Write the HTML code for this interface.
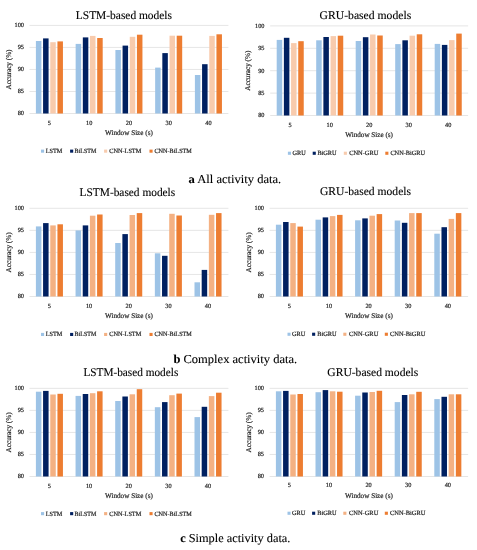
<!DOCTYPE html>
<html lang="en"><head><meta charset="utf-8"><title>Accuracy of LSTM- and GRU-based models</title>
<style>html,body{margin:0;padding:0;background:#fff}svg{display:block}text{font-family:"Liberation Serif",serif;text-rendering:geometricPrecision}.t{font-size:11.7px;fill:#000;stroke:#000;stroke-width:.12px}.c{font-size:12px;fill:#000;stroke:#000;stroke-width:.1px}.s{font-size:6.3px;fill:#262626;stroke:#262626;stroke-width:.2px}.a{font-size:7.3px;fill:#262626;stroke:#262626;stroke-width:.2px}.l{font-size:6.4px;fill:#262626;stroke:#262626;stroke-width:.2px}</style></head><body>
<svg width="477" height="550" viewBox="0 0 477 550">
<rect width="477" height="550" fill="#fff"/>
<g>
<text class="t" x="75.8" y="19.1" textLength="96.2" lengthAdjust="spacingAndGlyphs">LSTM-based models</text>
<line x1="29.5" x2="228.4" y1="25.40" y2="25.40" stroke="#DCDCDC" stroke-width="0.75"/>
<text class="s" text-anchor="end" x="24.0" y="27.25">100</text>
<line x1="29.5" x2="228.4" y1="47.42" y2="47.42" stroke="#DCDCDC" stroke-width="0.75"/>
<text class="s" text-anchor="end" x="24.0" y="49.27">95</text>
<line x1="29.5" x2="228.4" y1="69.45" y2="69.45" stroke="#DCDCDC" stroke-width="0.75"/>
<text class="s" text-anchor="end" x="24.0" y="71.30">90</text>
<line x1="29.5" x2="228.4" y1="91.47" y2="91.47" stroke="#DCDCDC" stroke-width="0.75"/>
<text class="s" text-anchor="end" x="24.0" y="93.32">85</text>
<line x1="29.5" x2="228.4" y1="113.50" y2="113.50" stroke="#DCDCDC" stroke-width="0.75"/>
<text class="s" text-anchor="end" x="24.0" y="115.35">80</text>
<rect x="35.90" y="41.00" width="5.50" height="72.50" fill="#9DC3E6"/>
<rect x="43.08" y="38.40" width="5.50" height="75.10" fill="#002060"/>
<rect x="50.26" y="42.20" width="5.50" height="71.30" fill="#F8CBAD"/>
<rect x="57.44" y="41.40" width="5.50" height="72.10" fill="#ED7D31"/>
<text class="s" text-anchor="middle" x="49.4" y="124.9">5</text>
<rect x="75.65" y="43.90" width="5.50" height="69.60" fill="#9DC3E6"/>
<rect x="82.83" y="37.40" width="5.50" height="76.10" fill="#002060"/>
<rect x="90.01" y="35.90" width="5.50" height="77.60" fill="#F8CBAD"/>
<rect x="97.19" y="38.00" width="5.50" height="75.50" fill="#ED7D31"/>
<text class="s" text-anchor="middle" x="89.2" y="124.9">10</text>
<rect x="115.40" y="50.00" width="5.50" height="63.50" fill="#9DC3E6"/>
<rect x="122.58" y="45.60" width="5.50" height="67.90" fill="#002060"/>
<rect x="129.76" y="36.80" width="5.50" height="76.70" fill="#F8CBAD"/>
<rect x="136.94" y="34.70" width="5.50" height="78.80" fill="#ED7D31"/>
<text class="s" text-anchor="middle" x="128.9" y="124.9">20</text>
<rect x="155.15" y="67.60" width="5.50" height="45.90" fill="#9DC3E6"/>
<rect x="162.33" y="53.10" width="5.50" height="60.40" fill="#002060"/>
<rect x="169.51" y="35.70" width="5.50" height="77.80" fill="#F8CBAD"/>
<rect x="176.69" y="35.70" width="5.50" height="77.80" fill="#ED7D31"/>
<text class="s" text-anchor="middle" x="168.7" y="124.9">30</text>
<rect x="194.90" y="75.00" width="5.50" height="38.50" fill="#9DC3E6"/>
<rect x="202.08" y="64.20" width="5.50" height="49.30" fill="#002060"/>
<rect x="209.26" y="35.90" width="5.50" height="77.60" fill="#F8CBAD"/>
<rect x="216.44" y="34.30" width="5.50" height="79.20" fill="#ED7D31"/>
<text class="s" text-anchor="middle" x="208.4" y="124.9">40</text>
<text class="a" text-anchor="middle" transform="translate(128.9 135.1) scale(1 1)" textLength="47.8" lengthAdjust="spacingAndGlyphs">Window Size (s)</text>
<text class="a" text-anchor="middle" transform="translate(11.1 69.5) rotate(-90) scale(1 1)" textLength="40" lengthAdjust="spacingAndGlyphs">Accuracy (%)</text>
<rect x="41.0" y="149.6" width="3.1" height="3.1" fill="#9DC3E6"/>
<text class="l" transform="translate(45.8 153.1) scale(1 1)" textLength="16.6" lengthAdjust="spacingAndGlyphs">LSTM</text>
<rect x="70.1" y="149.6" width="3.1" height="3.1" fill="#002060"/>
<text class="l" transform="translate(74.6 153.1) scale(1 1)" textLength="21.7" lengthAdjust="spacingAndGlyphs">BiLSTM</text>
<rect x="104.1" y="149.6" width="3.1" height="3.1" fill="#F8CBAD"/>
<text class="l" transform="translate(109.2 153.1) scale(1 1)" textLength="32.1" lengthAdjust="spacingAndGlyphs">CNN-LSTM</text>
<rect x="149.5" y="149.6" width="3.1" height="3.1" fill="#ED7D31"/>
<text class="l" transform="translate(154.5 153.1) scale(1 1)" textLength="37.3" lengthAdjust="spacingAndGlyphs">CNN-BiLSTM</text>
</g>
<g>
<text class="t" x="319.6" y="19.1" textLength="91.6" lengthAdjust="spacingAndGlyphs">GRU-based models</text>
<line x1="270.2" x2="468.1" y1="25.90" y2="25.90" stroke="#DCDCDC" stroke-width="0.75"/>
<text class="s" text-anchor="end" x="264.5" y="27.75">100</text>
<line x1="270.2" x2="468.1" y1="48.30" y2="48.30" stroke="#DCDCDC" stroke-width="0.75"/>
<text class="s" text-anchor="end" x="264.5" y="50.15">95</text>
<line x1="270.2" x2="468.1" y1="70.70" y2="70.70" stroke="#DCDCDC" stroke-width="0.75"/>
<text class="s" text-anchor="end" x="264.5" y="72.55">90</text>
<line x1="270.2" x2="468.1" y1="93.10" y2="93.10" stroke="#DCDCDC" stroke-width="0.75"/>
<text class="s" text-anchor="end" x="264.5" y="94.95">85</text>
<line x1="270.2" x2="468.1" y1="115.50" y2="115.50" stroke="#DCDCDC" stroke-width="0.75"/>
<text class="s" text-anchor="end" x="264.5" y="117.35">80</text>
<rect x="276.70" y="39.90" width="5.50" height="75.60" fill="#9DC3E6"/>
<rect x="283.88" y="37.80" width="5.50" height="77.70" fill="#002060"/>
<rect x="291.06" y="43.10" width="5.50" height="72.40" fill="#F8CBAD"/>
<rect x="298.24" y="41.20" width="5.50" height="74.30" fill="#ED7D31"/>
<text class="s" text-anchor="middle" x="290.2" y="126.9">5</text>
<rect x="316.20" y="40.30" width="5.50" height="75.20" fill="#9DC3E6"/>
<rect x="323.38" y="37.00" width="5.50" height="78.50" fill="#002060"/>
<rect x="330.56" y="36.10" width="5.50" height="79.40" fill="#F8CBAD"/>
<rect x="337.74" y="35.70" width="5.50" height="79.80" fill="#ED7D31"/>
<text class="s" text-anchor="middle" x="329.7" y="126.9">10</text>
<rect x="355.70" y="41.00" width="5.50" height="74.50" fill="#9DC3E6"/>
<rect x="362.88" y="37.20" width="5.50" height="78.30" fill="#002060"/>
<rect x="370.06" y="34.50" width="5.50" height="81.00" fill="#F8CBAD"/>
<rect x="377.24" y="35.50" width="5.50" height="80.00" fill="#ED7D31"/>
<text class="s" text-anchor="middle" x="369.2" y="126.9">20</text>
<rect x="395.20" y="44.10" width="5.50" height="71.40" fill="#9DC3E6"/>
<rect x="402.38" y="40.30" width="5.50" height="75.20" fill="#002060"/>
<rect x="409.56" y="35.70" width="5.50" height="79.80" fill="#F8CBAD"/>
<rect x="416.74" y="34.30" width="5.50" height="81.20" fill="#ED7D31"/>
<text class="s" text-anchor="middle" x="408.7" y="126.9">30</text>
<rect x="434.70" y="43.90" width="5.50" height="71.60" fill="#9DC3E6"/>
<rect x="441.88" y="44.90" width="5.50" height="70.60" fill="#002060"/>
<rect x="449.06" y="40.10" width="5.50" height="75.40" fill="#F8CBAD"/>
<rect x="456.24" y="33.60" width="5.50" height="81.90" fill="#ED7D31"/>
<text class="s" text-anchor="middle" x="448.2" y="126.9">40</text>
<text class="a" text-anchor="middle" transform="translate(369.1 136.9) scale(1 1)" textLength="47.8" lengthAdjust="spacingAndGlyphs">Window Size (s)</text>
<text class="a" text-anchor="middle" transform="translate(250.3 70.7) rotate(-90) scale(1 1)" textLength="40" lengthAdjust="spacingAndGlyphs">Accuracy (%)</text>
<rect x="287.9" y="151.7" width="3.1" height="3.1" fill="#9DC3E6"/>
<text class="l" transform="translate(292.6 155.2) scale(1 1)" textLength="13.2" lengthAdjust="spacingAndGlyphs">GRU</text>
<rect x="312.7" y="151.7" width="3.1" height="3.1" fill="#002060"/>
<text class="l" transform="translate(317.4 155.2) scale(1 1)" textLength="19.2" lengthAdjust="spacingAndGlyphs">BiGRU</text>
<rect x="343.8" y="151.7" width="3.1" height="3.1" fill="#F8CBAD"/>
<text class="l" transform="translate(349.2 155.2) scale(1 1)" textLength="29.2" lengthAdjust="spacingAndGlyphs">CNN-GRU</text>
<rect x="385.3" y="151.7" width="3.1" height="3.1" fill="#ED7D31"/>
<text class="l" transform="translate(390.4 155.2) scale(1 1)" textLength="34.6" lengthAdjust="spacingAndGlyphs">CNN-BiGRU</text>
</g>
<g>
<text class="t" x="79.6" y="195.7" textLength="95.6" lengthAdjust="spacingAndGlyphs">LSTM-based models</text>
<line x1="29.5" x2="228.4" y1="208.30" y2="208.30" stroke="#DCDCDC" stroke-width="0.75"/>
<text class="s" text-anchor="end" x="24.0" y="210.15">100</text>
<line x1="29.5" x2="228.4" y1="230.35" y2="230.35" stroke="#DCDCDC" stroke-width="0.75"/>
<text class="s" text-anchor="end" x="24.0" y="232.20">95</text>
<line x1="29.5" x2="228.4" y1="252.40" y2="252.40" stroke="#DCDCDC" stroke-width="0.75"/>
<text class="s" text-anchor="end" x="24.0" y="254.25">90</text>
<line x1="29.5" x2="228.4" y1="274.45" y2="274.45" stroke="#DCDCDC" stroke-width="0.75"/>
<text class="s" text-anchor="end" x="24.0" y="276.30">85</text>
<line x1="29.5" x2="228.4" y1="296.50" y2="296.50" stroke="#DCDCDC" stroke-width="0.75"/>
<text class="s" text-anchor="end" x="24.0" y="298.35">80</text>
<rect x="35.90" y="226.40" width="5.50" height="70.10" fill="#9DC3E6"/>
<rect x="43.08" y="223.10" width="5.50" height="73.40" fill="#002060"/>
<rect x="50.26" y="225.40" width="5.50" height="71.10" fill="#F4B183"/>
<rect x="57.44" y="224.30" width="5.50" height="72.20" fill="#ED7D31"/>
<text class="s" text-anchor="middle" x="49.4" y="307.9">5</text>
<rect x="75.55" y="230.40" width="5.50" height="66.10" fill="#9DC3E6"/>
<rect x="82.73" y="225.40" width="5.50" height="71.10" fill="#002060"/>
<rect x="89.91" y="215.70" width="5.50" height="80.80" fill="#F4B183"/>
<rect x="97.09" y="214.50" width="5.50" height="82.00" fill="#ED7D31"/>
<text class="s" text-anchor="middle" x="89.1" y="307.9">10</text>
<rect x="115.20" y="243.00" width="5.50" height="53.50" fill="#9DC3E6"/>
<rect x="122.38" y="234.10" width="5.50" height="62.40" fill="#002060"/>
<rect x="129.56" y="215.00" width="5.50" height="81.50" fill="#F4B183"/>
<rect x="136.74" y="213.10" width="5.50" height="83.40" fill="#ED7D31"/>
<text class="s" text-anchor="middle" x="128.7" y="307.9">20</text>
<rect x="154.85" y="253.30" width="5.50" height="43.20" fill="#9DC3E6"/>
<rect x="162.03" y="255.80" width="5.50" height="40.70" fill="#002060"/>
<rect x="169.21" y="213.80" width="5.50" height="82.70" fill="#F4B183"/>
<rect x="176.39" y="215.50" width="5.50" height="81.00" fill="#ED7D31"/>
<text class="s" text-anchor="middle" x="168.4" y="307.9">30</text>
<rect x="194.50" y="282.30" width="5.50" height="14.20" fill="#9DC3E6"/>
<rect x="201.68" y="269.90" width="5.50" height="26.60" fill="#002060"/>
<rect x="208.86" y="214.80" width="5.50" height="81.70" fill="#F4B183"/>
<rect x="216.04" y="213.10" width="5.50" height="83.40" fill="#ED7D31"/>
<text class="s" text-anchor="middle" x="208.0" y="307.9">40</text>
<text class="a" text-anchor="middle" transform="translate(128.9 318.1) scale(1 1)" textLength="47.8" lengthAdjust="spacingAndGlyphs">Window Size (s)</text>
<text class="a" text-anchor="middle" transform="translate(11.1 252.4) rotate(-90) scale(1 1)" textLength="40" lengthAdjust="spacingAndGlyphs">Accuracy (%)</text>
<rect x="41.0" y="332.9" width="3.1" height="3.1" fill="#9DC3E6"/>
<text class="l" transform="translate(45.8 336.4) scale(1 1)" textLength="16.6" lengthAdjust="spacingAndGlyphs">LSTM</text>
<rect x="70.1" y="332.9" width="3.1" height="3.1" fill="#002060"/>
<text class="l" transform="translate(74.6 336.4) scale(1 1)" textLength="21.7" lengthAdjust="spacingAndGlyphs">BiLSTM</text>
<rect x="104.1" y="332.9" width="3.1" height="3.1" fill="#F4B183"/>
<text class="l" transform="translate(109.2 336.4) scale(1 1)" textLength="32.1" lengthAdjust="spacingAndGlyphs">CNN-LSTM</text>
<rect x="149.5" y="332.9" width="3.1" height="3.1" fill="#ED7D31"/>
<text class="l" transform="translate(154.5 336.4) scale(1 1)" textLength="37.3" lengthAdjust="spacingAndGlyphs">CNN-BiLSTM</text>
</g>
<g>
<text class="t" x="320.0" y="195.2" textLength="91.0" lengthAdjust="spacingAndGlyphs">GRU-based models</text>
<line x1="269.6" x2="468.1" y1="208.30" y2="208.30" stroke="#DCDCDC" stroke-width="0.75"/>
<text class="s" text-anchor="end" x="264.0" y="210.15">100</text>
<line x1="269.6" x2="468.1" y1="230.35" y2="230.35" stroke="#DCDCDC" stroke-width="0.75"/>
<text class="s" text-anchor="end" x="264.0" y="232.20">95</text>
<line x1="269.6" x2="468.1" y1="252.40" y2="252.40" stroke="#DCDCDC" stroke-width="0.75"/>
<text class="s" text-anchor="end" x="264.0" y="254.25">90</text>
<line x1="269.6" x2="468.1" y1="274.45" y2="274.45" stroke="#DCDCDC" stroke-width="0.75"/>
<text class="s" text-anchor="end" x="264.0" y="276.30">85</text>
<line x1="269.6" x2="468.1" y1="296.50" y2="296.50" stroke="#DCDCDC" stroke-width="0.75"/>
<text class="s" text-anchor="end" x="264.0" y="298.35">80</text>
<rect x="275.90" y="224.70" width="5.50" height="71.80" fill="#9DC3E6"/>
<rect x="283.08" y="222.00" width="5.50" height="74.50" fill="#002060"/>
<rect x="290.26" y="223.10" width="5.50" height="73.40" fill="#F4B183"/>
<rect x="297.44" y="226.60" width="5.50" height="69.90" fill="#ED7D31"/>
<text class="s" text-anchor="middle" x="289.4" y="307.9">5</text>
<rect x="315.50" y="219.70" width="5.50" height="76.80" fill="#9DC3E6"/>
<rect x="322.68" y="217.40" width="5.50" height="79.10" fill="#002060"/>
<rect x="329.86" y="216.10" width="5.50" height="80.40" fill="#F4B183"/>
<rect x="337.04" y="214.90" width="5.50" height="81.60" fill="#ED7D31"/>
<text class="s" text-anchor="middle" x="329.0" y="307.9">10</text>
<rect x="355.10" y="220.30" width="5.50" height="76.20" fill="#9DC3E6"/>
<rect x="362.28" y="218.40" width="5.50" height="78.10" fill="#002060"/>
<rect x="369.46" y="215.70" width="5.50" height="80.80" fill="#F4B183"/>
<rect x="376.64" y="214.10" width="5.50" height="82.40" fill="#ED7D31"/>
<text class="s" text-anchor="middle" x="368.6" y="307.9">20</text>
<rect x="394.70" y="220.50" width="5.50" height="76.00" fill="#9DC3E6"/>
<rect x="401.88" y="222.80" width="5.50" height="73.70" fill="#002060"/>
<rect x="409.06" y="213.10" width="5.50" height="83.40" fill="#F4B183"/>
<rect x="416.24" y="213.10" width="5.50" height="83.40" fill="#ED7D31"/>
<text class="s" text-anchor="middle" x="408.2" y="307.9">30</text>
<rect x="434.30" y="233.70" width="5.50" height="62.80" fill="#9DC3E6"/>
<rect x="441.48" y="227.20" width="5.50" height="69.30" fill="#002060"/>
<rect x="448.66" y="218.90" width="5.50" height="77.60" fill="#F4B183"/>
<rect x="455.84" y="213.10" width="5.50" height="83.40" fill="#ED7D31"/>
<text class="s" text-anchor="middle" x="447.8" y="307.9">40</text>
<text class="a" text-anchor="middle" transform="translate(368.9 318.1) scale(1 1)" textLength="47.8" lengthAdjust="spacingAndGlyphs">Window Size (s)</text>
<text class="a" text-anchor="middle" transform="translate(250.7 252.4) rotate(-90) scale(1 1)" textLength="40" lengthAdjust="spacingAndGlyphs">Accuracy (%)</text>
<rect x="287.5" y="332.7" width="3.1" height="3.1" fill="#9DC3E6"/>
<text class="l" transform="translate(292.0 336.2) scale(1 1)" textLength="13.3" lengthAdjust="spacingAndGlyphs">GRU</text>
<rect x="312.1" y="332.7" width="3.1" height="3.1" fill="#002060"/>
<text class="l" transform="translate(317.2 336.2) scale(1 1)" textLength="19.3" lengthAdjust="spacingAndGlyphs">BiGRU</text>
<rect x="343.3" y="332.7" width="3.1" height="3.1" fill="#F4B183"/>
<text class="l" transform="translate(349.0 336.2) scale(1 1)" textLength="29.3" lengthAdjust="spacingAndGlyphs">CNN-GRU</text>
<rect x="384.8" y="332.7" width="3.1" height="3.1" fill="#ED7D31"/>
<text class="l" transform="translate(390.0 336.2) scale(1 1)" textLength="35.4" lengthAdjust="spacingAndGlyphs">CNN-BiGRU</text>
</g>
<g>
<text class="t" x="83.4" y="375.6" textLength="94.9" lengthAdjust="spacingAndGlyphs">LSTM-based models</text>
<line x1="29.5" x2="228.4" y1="388.35" y2="388.35" stroke="#DCDCDC" stroke-width="0.75"/>
<text class="s" text-anchor="end" x="24.0" y="390.20">100</text>
<line x1="29.5" x2="228.4" y1="410.39" y2="410.39" stroke="#DCDCDC" stroke-width="0.75"/>
<text class="s" text-anchor="end" x="24.0" y="412.24">95</text>
<line x1="29.5" x2="228.4" y1="432.43" y2="432.43" stroke="#DCDCDC" stroke-width="0.75"/>
<text class="s" text-anchor="end" x="24.0" y="434.28">90</text>
<line x1="29.5" x2="228.4" y1="454.46" y2="454.46" stroke="#DCDCDC" stroke-width="0.75"/>
<text class="s" text-anchor="end" x="24.0" y="456.31">85</text>
<line x1="29.5" x2="228.4" y1="476.50" y2="476.50" stroke="#DCDCDC" stroke-width="0.75"/>
<text class="s" text-anchor="end" x="24.0" y="478.35">80</text>
<rect x="35.90" y="391.70" width="5.50" height="84.80" fill="#9DC3E6"/>
<rect x="43.08" y="390.90" width="5.50" height="85.60" fill="#002060"/>
<rect x="50.26" y="394.50" width="5.50" height="82.00" fill="#F4B183"/>
<rect x="57.44" y="393.80" width="5.50" height="82.70" fill="#ED7D31"/>
<text class="s" text-anchor="middle" x="49.4" y="487.7">5</text>
<rect x="75.55" y="395.90" width="5.50" height="80.60" fill="#9DC3E6"/>
<rect x="82.73" y="394.00" width="5.50" height="82.50" fill="#002060"/>
<rect x="89.91" y="393.20" width="5.50" height="83.30" fill="#F4B183"/>
<rect x="97.09" y="391.30" width="5.50" height="85.20" fill="#ED7D31"/>
<text class="s" text-anchor="middle" x="89.1" y="487.7">10</text>
<rect x="115.20" y="401.00" width="5.50" height="75.50" fill="#9DC3E6"/>
<rect x="122.38" y="396.50" width="5.50" height="80.00" fill="#002060"/>
<rect x="129.56" y="394.30" width="5.50" height="82.20" fill="#F4B183"/>
<rect x="136.74" y="389.20" width="5.50" height="87.30" fill="#ED7D31"/>
<text class="s" text-anchor="middle" x="128.7" y="487.7">20</text>
<rect x="154.85" y="407.20" width="5.50" height="69.30" fill="#9DC3E6"/>
<rect x="162.03" y="402.10" width="5.50" height="74.40" fill="#002060"/>
<rect x="169.21" y="395.20" width="5.50" height="81.30" fill="#F4B183"/>
<rect x="176.39" y="393.60" width="5.50" height="82.90" fill="#ED7D31"/>
<text class="s" text-anchor="middle" x="168.4" y="487.7">30</text>
<rect x="194.50" y="417.10" width="5.50" height="59.40" fill="#9DC3E6"/>
<rect x="201.68" y="406.80" width="5.50" height="69.70" fill="#002060"/>
<rect x="208.86" y="396.10" width="5.50" height="80.40" fill="#F4B183"/>
<rect x="216.04" y="392.70" width="5.50" height="83.80" fill="#ED7D31"/>
<text class="s" text-anchor="middle" x="208.0" y="487.7">40</text>
<text class="a" text-anchor="middle" transform="translate(128.9 497.9) scale(1 1)" textLength="47.8" lengthAdjust="spacingAndGlyphs">Window Size (s)</text>
<text class="a" text-anchor="middle" transform="translate(11.1 432.4) rotate(-90) scale(1 1)" textLength="40" lengthAdjust="spacingAndGlyphs">Accuracy (%)</text>
<rect x="41.0" y="512.1" width="3.1" height="3.1" fill="#9DC3E6"/>
<text class="l" transform="translate(45.8 515.6) scale(1 1)" textLength="16.6" lengthAdjust="spacingAndGlyphs">LSTM</text>
<rect x="70.1" y="512.1" width="3.1" height="3.1" fill="#002060"/>
<text class="l" transform="translate(74.6 515.6) scale(1 1)" textLength="21.7" lengthAdjust="spacingAndGlyphs">BiLSTM</text>
<rect x="104.1" y="512.1" width="3.1" height="3.1" fill="#F4B183"/>
<text class="l" transform="translate(109.2 515.6) scale(1 1)" textLength="32.1" lengthAdjust="spacingAndGlyphs">CNN-LSTM</text>
<rect x="149.5" y="512.1" width="3.1" height="3.1" fill="#ED7D31"/>
<text class="l" transform="translate(154.5 515.6) scale(1 1)" textLength="37.3" lengthAdjust="spacingAndGlyphs">CNN-BiLSTM</text>
</g>
<g>
<text class="t" x="327.3" y="375.6" textLength="91.0" lengthAdjust="spacingAndGlyphs">GRU-based models</text>
<line x1="269.6" x2="468.1" y1="388.35" y2="388.35" stroke="#DCDCDC" stroke-width="0.75"/>
<text class="s" text-anchor="end" x="264.0" y="390.20">100</text>
<line x1="269.6" x2="468.1" y1="410.39" y2="410.39" stroke="#DCDCDC" stroke-width="0.75"/>
<text class="s" text-anchor="end" x="264.0" y="412.24">95</text>
<line x1="269.6" x2="468.1" y1="432.43" y2="432.43" stroke="#DCDCDC" stroke-width="0.75"/>
<text class="s" text-anchor="end" x="264.0" y="434.28">90</text>
<line x1="269.6" x2="468.1" y1="454.46" y2="454.46" stroke="#DCDCDC" stroke-width="0.75"/>
<text class="s" text-anchor="end" x="264.0" y="456.31">85</text>
<line x1="269.6" x2="468.1" y1="476.50" y2="476.50" stroke="#DCDCDC" stroke-width="0.75"/>
<text class="s" text-anchor="end" x="264.0" y="478.35">80</text>
<rect x="275.90" y="391.30" width="5.50" height="85.20" fill="#9DC3E6"/>
<rect x="283.08" y="390.90" width="5.50" height="85.60" fill="#002060"/>
<rect x="290.26" y="394.50" width="5.50" height="82.00" fill="#F4B183"/>
<rect x="297.44" y="394.00" width="5.50" height="82.50" fill="#ED7D31"/>
<text class="s" text-anchor="middle" x="289.4" y="487.4">5</text>
<rect x="315.50" y="392.20" width="5.50" height="84.30" fill="#9DC3E6"/>
<rect x="322.68" y="390.10" width="5.50" height="86.40" fill="#002060"/>
<rect x="329.86" y="391.30" width="5.50" height="85.20" fill="#F4B183"/>
<rect x="337.04" y="391.70" width="5.50" height="84.80" fill="#ED7D31"/>
<text class="s" text-anchor="middle" x="329.0" y="487.4">10</text>
<rect x="355.10" y="395.70" width="5.50" height="80.80" fill="#9DC3E6"/>
<rect x="362.28" y="392.50" width="5.50" height="84.00" fill="#002060"/>
<rect x="369.46" y="392.00" width="5.50" height="84.50" fill="#F4B183"/>
<rect x="376.64" y="390.80" width="5.50" height="85.70" fill="#ED7D31"/>
<text class="s" text-anchor="middle" x="368.6" y="487.4">20</text>
<rect x="394.70" y="402.10" width="5.50" height="74.40" fill="#9DC3E6"/>
<rect x="401.88" y="395.00" width="5.50" height="81.50" fill="#002060"/>
<rect x="409.06" y="394.30" width="5.50" height="82.20" fill="#F4B183"/>
<rect x="416.24" y="391.80" width="5.50" height="84.70" fill="#ED7D31"/>
<text class="s" text-anchor="middle" x="408.2" y="487.4">30</text>
<rect x="434.30" y="399.10" width="5.50" height="77.40" fill="#9DC3E6"/>
<rect x="441.48" y="396.80" width="5.50" height="79.70" fill="#002060"/>
<rect x="448.66" y="394.30" width="5.50" height="82.20" fill="#F4B183"/>
<rect x="455.84" y="394.30" width="5.50" height="82.20" fill="#ED7D31"/>
<text class="s" text-anchor="middle" x="447.8" y="487.4">40</text>
<text class="a" text-anchor="middle" transform="translate(368.9 497.7) scale(1 1)" textLength="47.8" lengthAdjust="spacingAndGlyphs">Window Size (s)</text>
<text class="a" text-anchor="middle" transform="translate(250.7 432.4) rotate(-90) scale(1 1)" textLength="40" lengthAdjust="spacingAndGlyphs">Accuracy (%)</text>
<rect x="287.5" y="511.7" width="3.1" height="3.1" fill="#9DC3E6"/>
<text class="l" transform="translate(292.0 515.2) scale(1 1)" textLength="13.3" lengthAdjust="spacingAndGlyphs">GRU</text>
<rect x="312.1" y="511.7" width="3.1" height="3.1" fill="#002060"/>
<text class="l" transform="translate(317.2 515.2) scale(1 1)" textLength="19.3" lengthAdjust="spacingAndGlyphs">BiGRU</text>
<rect x="343.3" y="511.7" width="3.1" height="3.1" fill="#F4B183"/>
<text class="l" transform="translate(349.0 515.2) scale(1 1)" textLength="29.3" lengthAdjust="spacingAndGlyphs">CNN-GRU</text>
<rect x="384.8" y="511.7" width="3.1" height="3.1" fill="#ED7D31"/>
<text class="l" transform="translate(390.0 515.2) scale(1 1)" textLength="35.4" lengthAdjust="spacingAndGlyphs">CNN-BiGRU</text>
</g>
<text class="c" x="188.5" y="182.7" textLength="92.7" lengthAdjust="spacingAndGlyphs"><tspan font-weight="bold">a</tspan> All activity data.</text>
<text class="c" x="173.4" y="363.4" textLength="123.8" lengthAdjust="spacingAndGlyphs"><tspan font-weight="bold">b</tspan> Complex activity data.</text>
<text class="c" x="180.2" y="541.9" textLength="110.2" lengthAdjust="spacingAndGlyphs"><tspan font-weight="bold">c</tspan> Simple activity data.</text>
</svg></body></html>
